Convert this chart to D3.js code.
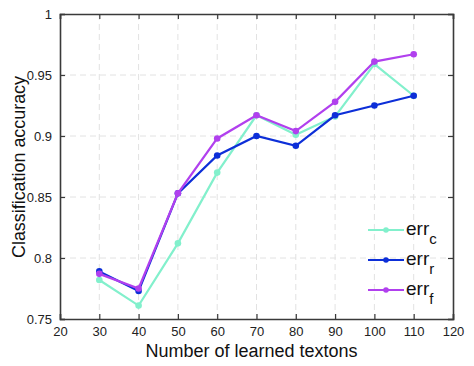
<!DOCTYPE html>
<html><head><meta charset="utf-8">
<script src="https://cdn.jsdelivr.net/npm/d3@7"></script>
<style>body{margin:0;background:#fff}svg{display:block}text{font-family:"Liberation Sans",Arial,sans-serif}</style>
</head><body>
<svg id="c" width="474" height="366"></svg>
<script>
const xVals = [30, 40, 50, 60, 70, 80, 90, 100, 110];
const errC = [0.782, 0.761, 0.812, 0.870, 0.917, 0.901, 0.916, 0.959, 0.933];
const errR = [0.789, 0.773, 0.853, 0.884, 0.900, 0.892, 0.917, 0.925, 0.933];
const errF = [0.787, 0.775, 0.853, 0.898, 0.917, 0.904, 0.928, 0.961, 0.967];
const xTicks = [20, 30, 40, 50, 60, 70, 80, 90, 100, 110, 120];
const yTicks = [0.75, 0.8, 0.85, 0.9, 0.95, 1];
const yTickLabels = ["0.75", "0.8", "0.85", "0.9", "0.95", "1"];
const seriesNames = ["c", "r", "f"];
const colors = ["#82f0cc", "#0d2fd8", "#b140ee"];

const svg = d3.select("#c");
const L = 60, R = 453, T = 14, B = 319;
const x = d3.scaleLinear().domain([20, 120]).range([L, R]);
const y = d3.scaleLinear().domain([0.75, 1]).range([B, T]);

// grid
const g = svg.append("g");
g.selectAll(".vg").data(xTicks.slice(1, -1)).join("line")
  .attr("x1", d => x(d)).attr("x2", d => x(d)).attr("y1", T).attr("y2", B)
  .attr("stroke", "#e2e2e2").attr("stroke-dasharray", "6,4").attr("stroke-width", 1);
g.selectAll(".hg").data(yTicks.slice(1, -1)).join("line")
  .attr("y1", d => y(d)).attr("y2", d => y(d)).attr("x1", L).attr("x2", R)
  .attr("stroke", "#e2e2e2").attr("stroke-dasharray", "6,4").attr("stroke-width", 1);

// axes
const axCol = "#3a3a3a";
const xa = svg.append("g").attr("transform", `translate(0,${B})`)
  .call(d3.axisBottom(x).tickValues(xTicks).tickSize(-5).tickPadding(8));
const ya = svg.append("g").attr("transform", `translate(${L},0)`)
  .call(d3.axisLeft(y).tickValues(yTicks).tickSize(-5).tickPadding(8).tickFormat((d, i) => yTickLabels[i]));
const xt = svg.append("g").attr("transform", `translate(0,${T})`)
  .call(d3.axisTop(x).tickValues(xTicks).tickSize(-5).tickFormat(""));
const yr = svg.append("g").attr("transform", `translate(${R},0)`)
  .call(d3.axisRight(y).tickValues(yTicks).tickSize(-5).tickFormat(""));
[xa, ya, xt, yr].forEach(a => {
  a.selectAll("path").attr("stroke", axCol).attr("stroke-width", 1.6);
  a.selectAll("line").attr("stroke", axCol).attr("stroke-width", 1.2);
  a.selectAll("text").attr("fill", "#222").attr("font-size", 13)
   .attr("font-family", "Liberation Sans, Arial, sans-serif");
});

// lines
const line = d3.line().x((d, i) => x(xVals[i])).y(d => y(d));
[errC, errR, errF].forEach((s, k) => {
  svg.append("path").datum(s).attr("d", line).attr("fill", "none")
    .attr("stroke", colors[k]).attr("stroke-width", 2.2);
  svg.selectAll(".p" + k).data(s).join("circle")
    .attr("cx", (d, i) => x(xVals[i])).attr("cy", d => y(d)).attr("r", 3.3)
    .attr("fill", colors[k]);
});

// legend
seriesNames.forEach((n, k) => {
  const ly = 230 + k * 30;
  svg.append("line").attr("x1", 368).attr("x2", 404).attr("y1", ly).attr("y2", ly)
    .attr("stroke", colors[k]).attr("stroke-width", 2.2);
  svg.append("circle").attr("cx", 386).attr("cy", ly).attr("r", 2.8).attr("fill", colors[k]);
  const t = svg.append("text").attr("x", 406).attr("y", ly + 5).attr("font-size", 19).attr("fill", "#111");
  t.append("tspan").text("err");
  t.append("tspan").attr("dy", 9).attr("font-size", 15).text(n);
});

// axis titles
svg.append("text").attr("x", (L + R) / 2 - 5).attr("y", 357).attr("text-anchor", "middle")
  .attr("font-size", 18).attr("fill", "#111").text("Number of learned textons");
svg.append("text").attr("transform", `translate(25,167) rotate(-90)`)
  .attr("text-anchor", "middle").attr("font-size", 18).attr("fill", "#111")
  .attr("textLength", 182).attr("lengthAdjust", "spacingAndGlyphs").text("Classification accuracy");
</script>
</body></html>
